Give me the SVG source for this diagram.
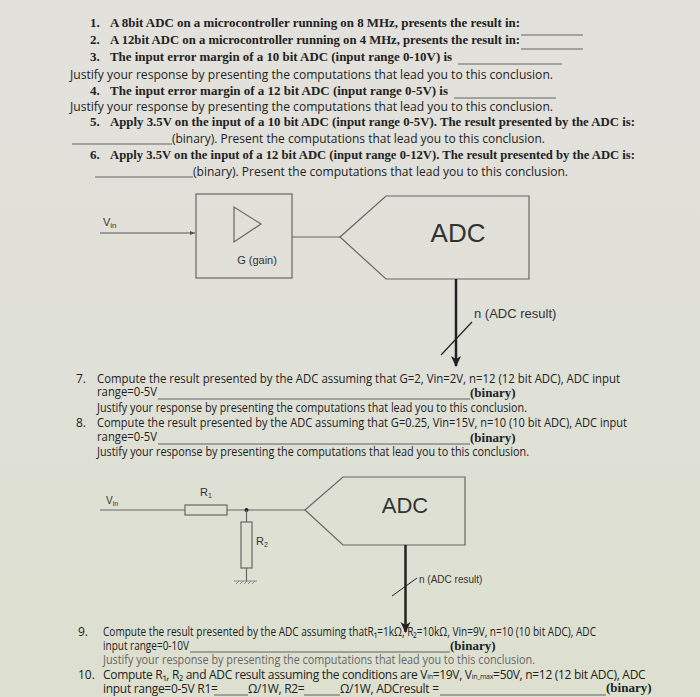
<svg xmlns="http://www.w3.org/2000/svg" width="700" height="697" viewBox="0 0 700 697">
<defs>
<linearGradient id="bg" x1="0" y1="0" x2="0" y2="1"><stop offset="0" stop-color="#e3e1dc"/><stop offset="0.5" stop-color="#dfe0d8"/><stop offset="1" stop-color="#dde0cf"/></linearGradient>
<marker id="a1" markerWidth="6" markerHeight="6" refX="5" refY="3" orient="auto"><path d="M0,1 L5,3 L0,5 z" fill="#555"/></marker>
<marker id="a2" markerWidth="12" markerHeight="12" refX="10" refY="5" orient="auto" markerUnits="userSpaceOnUse"><path d="M0,0 L11,5 L0,10 L3,5 z" fill="#222"/></marker>
</defs>
<style>
.b{font-family:"Liberation Serif",serif;font-weight:bold;font-size:13px;fill:#222}
.s{font-family:"Open Sans","Liberation Sans",sans-serif;font-size:12px;fill:#222}
.g{fill:#666}
.d{font-family:"Liberation Sans",Arial,sans-serif;fill:#333}
.ln{stroke:#444;stroke-width:0.8;fill:none}
.w{stroke:#666;stroke-width:1.2;fill:none}
</style>
<rect width="700" height="697" fill="url(#bg)"/>
<g id="q1to6">
<text class="b" x="90" y="27">1.</text><text class="b" x="110" y="27" textLength="410" lengthAdjust="spacingAndGlyphs">A 8bit ADC on a microcontroller running on 8 MHz, presents the result in:</text>
<line class="ln" x1="521" y1="35" x2="583" y2="35"/>
<text class="b" x="90" y="44">2.</text><text class="b" x="110" y="44" textLength="410" lengthAdjust="spacingAndGlyphs">A 12bit ADC on a microcontroller running on 4 MHz, presents the result in:</text>
<line class="ln" x1="521" y1="49" x2="583" y2="49"/>
<text class="b" x="90" y="61">3.</text><text class="b" x="110" y="61" textLength="342" lengthAdjust="spacingAndGlyphs">The input error margin of a 10 bit ADC (input range 0-10V) is</text>
<line class="ln" x1="458" y1="64" x2="562" y2="64"/>
<text class="s" x="70" y="79" textLength="483" lengthAdjust="spacingAndGlyphs">Justify your response by presenting the computations that lead you to this conclusion.</text>
<text class="b" x="90" y="95">4.</text><text class="b" x="110" y="95" textLength="338" lengthAdjust="spacingAndGlyphs">The input error margin of a 12 bit ADC (input range 0-5V) is</text>
<line class="ln" x1="454" y1="98" x2="556" y2="98"/>
<text class="s" x="70" y="111" textLength="483" lengthAdjust="spacingAndGlyphs">Justify your response by presenting the computations that lead you to this conclusion.</text>
<text class="b" x="90" y="126">5.</text><text class="b" x="110" y="126" textLength="525" lengthAdjust="spacingAndGlyphs">Apply 3.5V on the input of a 10 bit ADC (input range 0-5V). The result presented by the ADC is:</text>
<line class="ln" x1="72" y1="144" x2="172" y2="144"/>
<text class="s" x="172" y="143" textLength="373" lengthAdjust="spacingAndGlyphs">(binary). Present the computations that lead you to this conclusion.</text>
<text class="b" x="90" y="159">6.</text><text class="b" x="110" y="159" textLength="525" lengthAdjust="spacingAndGlyphs">Apply 3.5V on the input of a 12 bit ADC (input range 0-12V). The result presented by the ADC is:</text>
<line class="ln" x1="95" y1="177" x2="193" y2="177"/>
<text class="s" x="193" y="176" textLength="375" lengthAdjust="spacingAndGlyphs">(binary). Present the computations that lead you to this conclusion.</text>
</g>
<g id="diagram1">
<g id="gain"><rect x="196" y="194" width="96" height="84" class="w"/><path d="M234,207 L234,242 L261,224 z" class="w"/><text class="d" x="257" y="264" font-size="11" text-anchor="middle">G (gain)</text></g>
<g id="adc1"><path d="M340,237 L386,196 L529,196 L529,279 L386,279 z" class="w"/><text class="d" x="458" y="242" font-size="26" text-anchor="middle" fill="#222">ADC</text></g>
<g id="conn1">
<text class="d" x="103" y="226" font-size="11">V<tspan font-size="8" dy="2">in</tspan></text>
<line x1="100" y1="233" x2="195" y2="233" stroke="#555" stroke-width="1" marker-end="url(#a1)"/>
<line x1="292" y1="237" x2="340" y2="237" class="w"/>
<line x1="456" y1="279" x2="456" y2="366" stroke="#222" stroke-width="2.5" marker-end="url(#a2)"/>
<line x1="441" y1="355" x2="472" y2="322" stroke="#222" stroke-width="1.2"/>
<text class="d" x="474" y="318" font-size="13" fill="#222">n (ADC result)</text>
</g>
</g>
<g id="q7q8">
<text class="s" x="76" y="383">7.</text><text class="s" x="97" y="383" textLength="523" lengthAdjust="spacingAndGlyphs">Compute the result presented by the ADC assuming that G=2, Vin=2V, n=12 (12 bit ADC), ADC input</text>
<text class="s" x="97" y="396" textLength="60" lengthAdjust="spacingAndGlyphs">range=0-5V</text><line class="ln" x1="158" y1="399" x2="470" y2="399"/><text class="b" x="470" y="397" font-weight="normal">(binary)</text>
<text class="s" x="97" y="412" textLength="430" lengthAdjust="spacingAndGlyphs">Justify your response by presenting the computations that lead you to this conclusion.</text>
<text class="s" x="76" y="427">8.</text><text class="s" x="97" y="427" textLength="530" lengthAdjust="spacingAndGlyphs">Compute the result presented by the ADC assuming that G=0.25, Vin=15V, n=10 (10 bit ADC), ADC input</text>
<text class="s" x="97" y="441" textLength="60" lengthAdjust="spacingAndGlyphs">range=0-5V</text><line class="ln" x1="158" y1="444" x2="470" y2="444"/><text class="b" x="470" y="442" font-weight="normal">(binary)</text>
<text class="s" x="97" y="456" textLength="432" lengthAdjust="spacingAndGlyphs">Justify your response by presenting the computations that lead you to this conclusion.</text>
</g>
<g id="diagram2">
<g id="r1"><rect x="185" y="505" width="42" height="10" class="w"/><text class="d" x="200" y="496" font-size="11">R<tspan font-size="7" dy="2">1</tspan></text></g>
<g id="r2"><rect x="241" y="522" width="11" height="46" class="w"/><text class="d" x="256" y="545" font-size="11">R<tspan font-size="7" dy="2">2</tspan></text></g>
<g id="adc2"><path d="M305,510 L343,477 L465,477 L465,545 L343,545 z" class="w"/><text class="d" x="405" y="513" font-size="22" text-anchor="middle" fill="#222">ADC</text></g>
<g id="conn2">
<text class="d" x="106" y="504" font-size="10">V<tspan font-size="7" dy="2">in</tspan></text>
<line x1="100" y1="510" x2="185" y2="510" class="w"/>
<line x1="227" y1="510" x2="305" y2="510" class="w"/>
<circle cx="246.5" cy="510" r="2" fill="#222"/>
<line x1="246.5" y1="510" x2="246.5" y2="522" class="w"/>
<line x1="246.5" y1="568" x2="246.5" y2="581" class="w"/>
<path d="M234,581 L257,581 M236,584 L239,581 M240,584 L243,581 M244,584 L247,581 M248,584 L251,581 M252,584 L255,581" stroke="#777" stroke-width="0.8"/>
<line x1="405.5" y1="545" x2="405.5" y2="632" stroke="#222" stroke-width="2.5" marker-end="url(#a2)"/>
<line x1="392" y1="596" x2="417" y2="578" stroke="#222" stroke-width="1"/>
<text class="d" x="419" y="583" font-size="10" fill="#555">n (ADC result)</text>
</g>
</g>
<g id="q9q10">
<text class="s" x="78" y="636">9.</text><text class="s" x="103" y="636" textLength="493" lengthAdjust="spacingAndGlyphs">Compute the result presented by the ADC assuming thatR₁=1kΩ, R₂=10kΩ, Vin=9V, n=10 (10 bit ADC), ADC</text>
<text class="s" x="103" y="650" textLength="86" lengthAdjust="spacingAndGlyphs">input range=0-10V</text><line class="ln" x1="190" y1="652" x2="450" y2="652"/><text class="b" x="450" y="650" font-weight="normal">(binary)</text>
<text class="s g" x="103" y="664" textLength="432" lengthAdjust="spacingAndGlyphs">Justify your response by presenting the computations that lead you to this conclusion.</text>
<text class="s" x="78" y="679">10.</text><text class="s" x="103" y="679" font-size="11.5" letter-spacing="-0.3">Compute R₁, R₂ and ADC result assuming the conditions are V<tspan font-size="7">in</tspan>=19V, V<tspan font-size="7">in_max</tspan>=50V, n=12 (12 bit ADC), ADC</text>
<text class="s" x="103" y="693" font-size="11.5" letter-spacing="-0.3">input range=0-5V R1=</text><line class="ln" x1="214" y1="695" x2="248" y2="695"/><text class="s" x="248" y="693" font-size="11.5" letter-spacing="-0.3">Ω/1W, R2=</text><line class="ln" x1="304" y1="695" x2="340" y2="695"/><text class="s" x="340" y="693" font-size="11.5" letter-spacing="-0.3">Ω/1W, ADCresult =</text><line class="ln" x1="440" y1="695" x2="606" y2="695"/><text class="b" x="606" y="692" font-weight="normal">(binary)</text>
</g>
</svg>
